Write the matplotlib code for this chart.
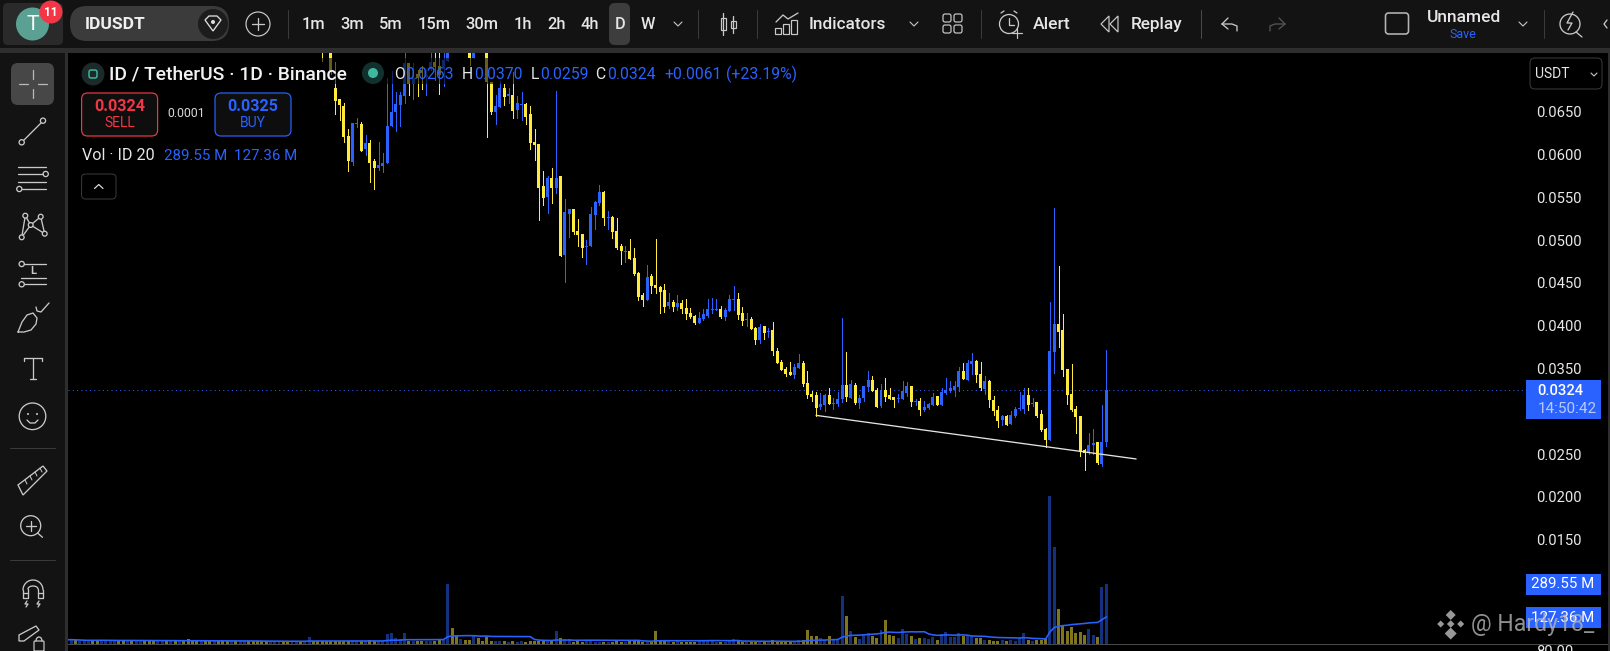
import numpy as np
import pandas as pd
import matplotlib
matplotlib.use("Agg")
import matplotlib.pyplot as plt
from matplotlib.patches import FancyBboxPatch, Rectangle, Circle, Polygon
from matplotlib.ticker import FormatStrFormatter

plt.rcParams['font.family'] = ['Roboto', 'DejaVu Sans']

nan = float('nan')
opens = [
 .0730,nan,.0725,.06744,.06613,.06531,.06183,.05882,.06322,.06322,
 .06032,.06102,.05893,.05812,.05835,.05870,.06299,.06462,.06543,.06647,
 .07030,.06787,.06903,.06949,.06872,.06961,.07042,.06995,.06961,.07053,
 nan,nan,nan,nan,.0725,.07088,nan,nan,.0725,.06810,
 .06462,.06520,.06740,.06647,.06659,.06485,.06543,.06555,.06439,.06114,
 .06091,.05603,.05476,.05696,.05580,.05719,.04803,.05279,.05336,.05081,
 .05046,.04896,.04907,.05267,.05406,.05534,.05232,.05244,.05081,.04907,
 .04837,.04849,.04768,.04594,.04339,.04281,.04559,.04455,.04432,.04397,
 .04211,.04258,.04200,.04246,.04188,.04130,.04095,.04014,.04060,.04095,
 .04165,.04165,.04176,.04084,.04153,.04281,.04292,.04130,.04049,.04060,
 .03956,.03817,.03979,.03909,.03933,.03689,.03561,.03480,.03445,.03411,
 .03492,.03550,.03318,.03190,.03179,.03039,.03063,.03179,.03074,.03074,
 .03132,.03295,.03144,.03295,.03086,.03144,.03271,.03353,.03237,.03051,
 .03237,.03179,.03155,.03132,.03132,.03202,.03283,.03097,.03109,.03005,
 .03028,.03063,.03167,.03063,.03202,.03225,.03237,.03271,.03457,.03353,
 .03538,.03573,.03422,.03248,.03341,.03121,.03005,.02888,.02935,.02842,
 .02935,.03016,.03016,.03179,.03074,.03097,.02958,.02784,.02657,.03678,
 .04002,.03933,.03480,.03190,.03016,.02935,.02541,.02506,.02599,.02633,
 .02378,.0263]
closes = [
 .0720,nan,.0693,.06589,.06543,.06172,.05893,.06334,.06334,.06009,
 .06102,.05870,.05812,.05847,.05870,.06299,.06462,.06555,.06659,.07030,
 .06787,.06856,.06856,.06910,.06891,.07042,.06984,.06891,.07065,.0725,
 nan,nan,nan,nan,.07088,.0725,nan,nan,.06810,.06462,
 .06531,.06740,.06636,.06671,.06474,.06566,.06555,.06404,.06102,.06079,
 .05580,.05464,.05696,.05580,.05696,.04791,.05302,.05336,.05070,.05035,
 .04884,.04907,.05279,.05418,.05534,.05232,.05244,.05070,.04884,.04849,
 .04849,.04756,.04582,.04315,.04281,.04548,.04443,.04420,.04374,.04200,
 .04258,.04200,.04246,.04176,.04118,.04084,.04014,.04072,.04118,.04176,
 .04176,.04176,.04084,.04165,.04292,.04292,.04107,.04037,.04060,.03944,
 .03817,.03967,.03898,.03921,.03689,.03550,.03469,.03422,.03411,.03504,
 .03550,.03306,.03179,.03155,.03028,.03074,.03179,.03074,.03086,.03132,
 .03295,.03155,.03306,.03086,.03144,.03283,.03353,.03225,.03039,.03237,
 .03155,.03132,.03121,.03144,.03225,.03283,.03097,.03109,.03005,.03039,
 .03074,.03155,.03063,.03213,.03237,.03260,.03283,.03457,.03364,.03550,
 .03573,.03411,.03260,.03341,.03121,.02993,.02877,.02935,.02830,.02947,
 .03016,.03028,.03179,.03063,.03086,.02935,.02773,.02657,.03689,.04002,
 .03909,.03469,.03179,.03005,.02923,.02517,.02506,.02599,.02622,.02390,
 .02633,.0324]
highs = [
 .0735,nan,.0735,.07038,.06613,.06562,.06265,.06334,.06392,.06346,
 .06195,.06137,.05916,.06114,.05986,.06856,.06937,.06694,.06694,.0735,
 .07030,.07030,.06949,.06995,.06949,.0735,.0735,.0735,.0735,.0735,
 nan,nan,nan,nan,.0735,.0735,nan,nan,.0735,.06810,
 .06659,.06821,.06787,.06740,.06926,.06647,.06694,.06566,.06531,.06265,
 .06091,.05777,.05719,.05812,.06705,.05719,.05452,.05336,.05336,.05220,
 .05046,.04977,.05360,.05429,.05615,.05545,.05313,.05255,.05232,.04930,
 .04907,.04988,.04884,.04606,.04362,.04687,.04582,.04990,.04443,.04466,
 .04362,.04281,.04339,.04281,.04292,.04188,.04107,.04142,.04176,.04292,
 .04304,.04292,.04211,.04188,.04339,.04443,.04362,.04200,.04130,.04083,
 .03967,.04002,.03979,.03956,.04025,.03724,.03585,.03504,.03561,.03538,
 .03654,.03573,.03457,.03225,.03213,.03202,.03190,.03260,.03144,.03213,
 .04072,.03677,.03353,.03318,.03179,.03283,.03457,.03399,.03260,.03306,
 .03376,.03260,.03155,.03190,.03341,.03329,.03283,.03132,.03144,.03109,
 .03086,.03202,.03167,.03260,.03376,.03341,.03341,.03503,.03550,.03585,
 .03666,.03585,.03561,.03399,.03353,.03167,.03051,.02947,.02947,.02993,
 .03039,.03213,.03260,.03260,.03144,.03097,.03005,.02796,.04257,.05348,
 .04675,.04118,.03480,.03538,.03051,.02935,.02552,.02738,.02784,.02633,
 .03063,.0370]
lows = [
 .07053,nan,.06903,.06439,.06369,.06114,.05777,.05847,.06288,.06009,
 .05963,.05650,.05568,.05789,.05766,.05870,.06299,.06241,.06299,.06566,
 .06659,.06613,.06647,.06729,.06659,.06949,.06833,.06671,.06763,.07053,
 nan,nan,nan,nan,.07007,.07088,nan,nan,.06172,.06439,
 .06322,.06520,.06543,.06566,.06392,.06392,.06369,.06322,.06032,.05905,
 .05209,.05383,.05290,.05406,.05522,.04791,.04490,.05012,.05046,.04907,
 .04780,.04698,.04907,.05104,.05383,.05151,.05104,.05000,.04872,.04698,
 .04721,.04756,.04571,.04281,.04211,.04281,.04362,.04362,.04130,.04142,
 .04188,.04153,.04165,.04130,.04060,.04072,.04002,.04014,.04049,.04084,
 .04130,.04165,.04072,.04049,.04153,.04165,.04060,.03991,.03979,.03944,
 .03770,.03782,.03828,.03852,.03643,.03550,.03469,.03399,.03411,.03376,
 .03492,.03283,.03144,.03109,.02935,.03016,.02993,.03074,.03016,.03051,
 .03097,.03109,.03144,.03074,.03028,.03109,.03225,.03225,.03039,.03039,
 .03109,.03132,.03039,.03097,.03132,.03167,.03051,.03063,.02947,.02993,
 .03016,.03063,.03063,.03063,.03190,.03213,.03167,.03225,.03364,.03353,
 .03422,.03329,.03237,.03190,.03039,.02947,.02807,.02830,.02830,.02842,
 .02923,.03005,.02970,.03005,.03051,.02923,.02761,.02575,.02657,.03434,
 .03735,.03399,.03074,.02993,.02738,.02471,.02308,.02494,.02494,.02378,
 .02355,.0259]
# Bars whose candle is above the visible price range: colour of their volume bar
hidden_lead_up = "YBYBBBYYBBBBYYBYBBYYYBBYBYBYYYYBYYBYYYBYBBYYYYYBBBYYBBYBBYY"[:59]
hidden_inner_up = "YYYBYYY"
# Volume in millions, one per bar
volumes_m = [
 20,22,18,16,15,15,19,20,16,15, 14,15,18,18,15,17,15,15,16,15,
 16,15,14,15,14,15,14,14,24,17, 15,14,14,14,13,14,14,13,13,13,
 13,13,13,13,14,14,13,13,13,13, 14,13,14,13,13,13,34,13,14,
 13,14,13,13,13,13,14,14,13,13, 13,19,14,13,15, 48,53,29,22,53,
 16,14,14,15,14,14,15,18,17,
 288,75,38,24,19,19,38,27,14,35,14,14,14,13,12,14,12,14,12,14,16,14,14,16,15,
 64,30,24,24,11,16,11,16,16,11,11,11,11,11,16,11,11,16,16,16,11,11,11,64,16,
 16,16,11,16,11,11,11,11,14,16,19,16,11,11,11,16,24,16,11,11,11,11,11,11,11,19,11,
 11,11,11,11,19,19,67,38,38,29, 19,38,19,24,230,134,62,34,24,43,
 53,38,29,67,115,43,38,29,72,48, 38,24,29,29,24,34,19,48,58,34,
 34,53,38,38,38,29,29,19,19,14, 14,19,14,19,14,29,53,19,14,19,
 19,24,710,466,168,86,62,82,53,58, 43,72,43,34,274,289.55]
price_ticks = [.065,.06,.055,.05,.045,.04,.035,.025,.02,.015]
trend_index = [172.9, 247.0]
trend_price = [.02943, .02436]
timeframes = ["1m","3m","5m","15m","30m","1h","2h","4h","D","W"]

BLUE = '#2962FF'; YEL = '#FFEB3B'; PANEL = '#131313'; SEP = '#2e2e2e'; ICON = '#c9c9c9'
W, H = 1610, 651
fig = plt.figure(figsize=(W/100, H/100), dpi=100, facecolor=PANEL)
PX = 72/100

# ---- background layer
bg = fig.add_axes([0,0,1,1], zorder=0); bg.set_xlim(0,W); bg.set_ylim(H,0); bg.axis('off')
bg.add_patch(Rectangle((0,48),W,5,color=SEP,lw=0))
bg.add_patch(Rectangle((65,48),3,H-48,color=SEP,lw=0))
bg.add_patch(Rectangle((68,53),W-68,H-53,color='black',lw=0))
bg.add_patch(Rectangle((1608,48),2,H-48,color=SEP,lw=0))

# ---- chart
x0, x1, y0, y1 = 68, 1527, 53, 644
pos = [x0/W, (H-y1)/H, (x1-x0)/W, (y1-y0)/H]
xlim = (0.28, 337.16)

o, h, l, c = [np.array(a) for a in (opens, highs, lows, closes)]
n_lead = len(volumes_m) - len(o)
vis = np.arange(n_lead, len(volumes_m))
inner = iter(hidden_inner_up)
up_c = [(next(inner) == 'B') if np.isnan(a) else (b >= a) for a, b in zip(o, c)]
up_all = np.array([ch == 'B' for ch in hidden_lead_up[:n_lead]] + up_c)
vol = np.array(volumes_m)
idx = np.arange(len(vol))

axv = fig.add_axes(pos, zorder=4); axv.set_xlim(*xlim); axv.set_ylim(0, 591*4.8); axv.axis('off')
axv.bar(idx, vol, width=0.69, color=[BLUE if u else YEL for u in up_all], alpha=0.5, lw=0, antialiased=False)
ma = pd.Series(vol).rolling(20, min_periods=1).mean()
axv.plot(idx, ma, color=BLUE, lw=1.6*PX, zorder=3)

ax = fig.add_axes(pos, zorder=5); ax.patch.set_alpha(0)
ax.set_xlim(*xlim); ax.set_ylim(.0029, .07146)
for s in ax.spines.values(): s.set_visible(False)
ax.set_xticks([]); ax.set_yticks([])
ax.axhline(c[-1], color=BLUE, lw=PX, ls=(0,(1,3.3)), zorder=1)
cols = [BLUE if u else YEL for u in up_c]
ax.vlines(vis, l, h, colors=cols, lw=PX, zorder=2, antialiased=False)
bot = np.minimum(o, c); top = np.maximum(o, c)
ax.bar(vis, np.maximum(top-bot, 0.00008), bottom=bot, width=0.69, color=cols, lw=0, zorder=3, antialiased=False)
ax.plot(trend_index, trend_price, color='#e4e4e4', lw=1.3*PX, zorder=4, solid_capstyle='butt')

# printed price scale
axl = fig.add_axes(pos, zorder=6); axl.patch.set_alpha(0)
axl.set_ylim(.00282, .07184)
for s in axl.spines.values(): s.set_visible(False)
axl.set_xticks([])
axl.yaxis.tick_right()
axl.set_yticks(price_ticks)
axl.yaxis.set_major_formatter(FormatStrFormatter('%.4f'))
axl.tick_params(axis='y', length=0, pad=6.5, labelcolor='#e8e8e8', labelsize=10.6)

# ---- UI overlay
ui = fig.add_axes([0,0,1,1], zorder=10); ui.set_xlim(0,W); ui.set_ylim(H,0); ui.axis('off'); ui.patch.set_alpha(0)

def T(x, y, s, color='#e6e6e6', size=11.5, ha='left', weight='normal', **k):
    return ui.text(x, y+1.5, s, color=color, fontsize=size, ha=ha, va='center', fontweight=weight, zorder=k.pop('zorder',20), **k)
def RR(x, y, w, h, r, fc='none', ec='none', lw=1, z=15):
    ui.add_patch(FancyBboxPatch((x,y),w,h,boxstyle=f"round,pad=0,rounding_size={r}",fc=fc,ec=ec,lw=lw*PX,zorder=z))
def LN(xs, ys, color=ICON, lw=1.3, z=16):
    ui.plot(xs, ys, color=color, lw=lw*PX, zorder=z, solid_capstyle='round', solid_joinstyle='round')
def CI(x, y, r, fc='none', ec=ICON, lw=1.3, z=17):
    ui.add_patch(Circle((x,y),r,fc=fc,ec=ec,lw=lw*PX,zorder=z))

# legend band dims what runs beneath it
ui.add_patch(Rectangle((68,58),735,26,color='black',alpha=0.6,lw=0,zorder=12))

# top toolbar
RR(3,3,60,42,5,fc='#2a2a2a')
CI(32.5,24,16.5,fc='#5aa193',ec='none')
T(32.5,23.5,'T',color='white',size=15,ha='center')
CI(51,12,11.5,fc='#f23645',ec='none',z=18)
T(51,10.5,'11',color='white',size=8.5,ha='center',weight='bold')
RR(70,6,159,35,17,fc='#3b3b3b')
T(85,23,'IDUSDT',color='#f0f0f0',size=12.5,weight='bold')
CI(213,24,15,fc='#1c1c1c',ec='none')
ui.add_patch(Polygon([(205,20),(209,16),(217,16),(221,20),(213,31)],closed=True,fc='none',ec='#e0e0e0',lw=1.3*PX,zorder=18))
CI(213,22,2,fc='#e0e0e0',ec='none',z=18)
CI(258,24,12,lw=1.2)
LN([252,264],[24,24]); LN([258,258],[18,30])
LN([288,288],[10,38],color='#3a3a3a',lw=1)
RR(609,3,21,42,6,fc='#3d3d3d')
tf_x = [313.5,352,391,434,482,523,557,590,620,648]
for tf, tx in zip(timeframes, tf_x):
    T(tx,23,tf,ha='center',size=11.8,weight='medium')
LN([674,678,682],[22,26,22],lw=1.1)
LN([698,698],[10,38],color='#3a3a3a',lw=1)
# candle icon
for cx, t_, b_ in [(723,16,32),(733,19,30)]:
    LN([cx,cx],[t_-3,b_+3]); ui.add_patch(Rectangle((cx-2.5,t_+2),5,b_-t_-4,fc='none',ec=ICON,lw=1.2*PX,zorder=16))
LN([757,757],[10,38],color='#3a3a3a',lw=1)
# indicators icon
for bx, bt in [(778,28),(786,24),(794,20)]:
    ui.add_patch(Rectangle((bx-3,bt),6,34-bt,fc='none',ec=ICON,lw=1.2*PX,zorder=16))
LN([776,783,788,798],[22,15,19,13])
T(809,23,'Indicators',size=12.4,weight='medium')
LN([910,914,918],[22,26,22],lw=1.1)
for gx in (943,954):
    for gy in (14,25):
        RR(gx,gy,8,8,2,ec=ICON,lw=1.2)
LN([981,981],[10,38],color='#3a3a3a',lw=1)
CI(1009,24,9.5)
LN([1009,1009,1014],[18,25,25]); LN([1001,1004],[13,11]); LN([1017,1014],[13,11])
LN([1012,1022],[33,33],lw=1.2); LN([1017,1017],[28,38],lw=1.2)
T(1033,23,'Alert',size=12.6,weight='medium')
for rx in (1101,1110):
    ui.add_patch(Polygon([(rx+8,16),(rx,24),(rx+8,32)],closed=True,fc='none',ec=ICON,lw=1.2*PX,zorder=16))
T(1131,23,'Replay',size=12.4,weight='medium')
LN([1201,1201],[10,38],color='#4a4a4a',lw=1)
LN([1222,1228],[24,18]); LN([1222,1228],[24,29]); LN([1222,1232,1237,1237],[24,24,26,31])
LN([1285,1279],[24,18],color='#555'); LN([1285,1279],[24,29],color='#555'); LN([1285,1275,1270,1270],[24,24,26,31],color='#555')
RR(1385.5,13,23,21,3,ec='#b5b5b5',lw=1.6)
T(1427,16,'Unnamed',size=12.5,weight='medium')
T(1463,32.5,'Save',color=BLUE,size=9,ha='center')
LN([1519,1523,1527],[22,26,22],lw=1.1)
LN([1544,1544],[10,38],color='#3a3a3a',lw=1)
CI(1570,24,10)
LN([1576,1582],[32,37]); LN([1573,1567,1572,1568],[12,23,23,30])
LN([1607,1604,1607],[20,24,28])

# left toolbar
RR(11,63,43,42,7,fc='#474747')
LN([33,33],[70,79],color='#b8b8b8'); LN([33,33],[89,98],color='#b8b8b8')
LN([19,28],[84,84],color='#b8b8b8'); LN([38,47],[84,84],color='#b8b8b8')
LN([24,41],[140,123]); CI(21.7,142.3,2.6); CI(43,120.7,2.6)
LN([18,46],[166.7,166.7]); LN([18,43],[174,174]); CI(45.7,174,2.6)
LN([18,46],[181.7,181.7]); LN([22,46],[189,189]); CI(19.3,189,2.6)
nodes = [(21.7,237.3),(25.3,215.7),(30.7,225),(40.7,216.7),(44.7,233.7)]
for i,j in [(0,1),(1,2),(0,2),(2,3),(3,4),(2,4)]:
    LN([nodes[i][0],nodes[j][0]],[nodes[i][1],nodes[j][1]])
for nx,ny in nodes: CI(nx,ny,2.4,fc=PANEL)
LN([24,46],[264,264]); CI(21.7,264,2.6)
T(33,269.5,'L',color=ICON,size=8,ha='center',weight='bold')
LN([21,46],[278,278]); LN([24,46],[284.3,284.3]); CI(21.7,284.3,2.6)
LN([18,24,31,36,37,33,27,22,18],[332,332,330,324,318,313,315,322,332])
LN([36,37,41,49],[307,311,312,303])
LN([24,42],[358,358]); LN([33,33],[358,379]); LN([30,36],[379,379]); LN([24,24],[358,361]); LN([42,42],[358,361])
CI(32.5,416.3,13.3)
CI(28,414,1,fc=ICON,ec='none'); CI(37,414,1,fc=ICON,ec='none')
LN([27,30,35,38],[420,423,423,420])
LN([10,55],[448,448],color='#3a3a3a',lw=1)
ui.add_patch(Polygon([(18,485),(43,466),(47,471),(23,495)],closed=True,fc='none',ec=ICON,lw=1.3*PX,zorder=16))
for a,b,c_,d in [(25,480,27,484),(30,476,32,480),(35,472,37,476),(40,468,42,472)]:
    LN([a,c_],[b,d],lw=1)
CI(30.7,525.7,10); LN([37.5,42.5],[533,537.3]); LN([25.5,36],[525.7,525.7]); LN([30.7,30.7],[520.5,531])
LN([10,55],[559.5,559.5],color='#3a3a3a',lw=1)
# magnet
theta = np.linspace(np.pi, 2*np.pi, 40)
LN(33+10*np.cos(theta), 590+10*np.sin(theta))
LN(33+5*np.cos(theta), 590+3*np.sin(theta)-1)
LN([23,23,28,28],[590,598,598,589]); LN([43,43,38,38],[590,598,598,589])
LN([23,28],[593,593]); LN([38,43],[593,593])
LN([27,25,28,26],[601,604,604,607]); LN([39,37,40,38],[601,604,604,607])
# pencil + lock
ui.add_patch(Polygon([(19,635),(36,626),(39,630),(24,641),(19,641)],closed=True,fc='none',ec=ICON,lw=1.3*PX,zorder=16))
RR(34,641,10,10,1,fc=PANEL,ec=ICON,lw=1.2)
th2 = np.linspace(np.pi,2*np.pi,20); LN(39+3*np.cos(th2),641+4*np.sin(th2))

# chart legend
CI(93,74,11.5,fc='#1c2a2a',ec='none')
RR(89,70,8,8,2,ec='#3fc0a5',lw=1.4,z=18)
T(109,73,'ID / TetherUS · 1D · Binance',color='#f2f2f2',size=13.9,weight='medium')
CI(373,73,11,fc='#12302d',ec='none',z=18)
CI(373,73,5,fc='#3fb8a0',ec='none',z=19)
for lx, lab, vx, val in [(394,'O',405.5,'0.0263'),(462,'H',474,'0.0370'),(530.5,'L',540,'0.0259'),(595.5,'C',607,'0.0324')]:
    T(lx,73,lab,color='#e6e6e6',size=11.3)
    T(vx,73,val,color=BLUE,size=11.3)
T(664,73,'+0.0061',color=BLUE,size=11.3)
T(726,73,'(+23.19%)',color=BLUE,size=11.3)
RR(81.6,93,76,43,6,fc='#0e0e0e',ec='#f23645',lw=1.2)
T(120,105,'0.0324',color='#f23645',size=11.6,ha='center',weight='bold')
T(120,121.5,'SELL',color='#f23645',size=10,ha='center')
T(186,112,'0.0001',color='#d8d8d8',size=8.8,ha='center')
RR(215,93,76,43,6,fc='#0e0e0e',ec=BLUE,lw=1.2)
T(253,105,'0.0325',color=BLUE,size=11.6,ha='center',weight='bold')
T(253,121.5,'BUY',color=BLUE,size=10,ha='center')
T(81.6,154,'Vol · ID 20',color='#e6e6e6',size=11.6)
T(164,154,'289.55 M',color=BLUE,size=10.8)
T(234,154,'127.36 M',color=BLUE,size=10.8)
RR(81.6,174,34.4,25,4,ec='#3a3a3a',lw=1)
LN([94.5,98.8,103],[188.5,184.5,188.5],color='#e0e0e0',lw=1.2)

# price scale
RR(1530,58,72,31,5,fc='black',ec='#3a3a3a',lw=1)
T(1535,73,'USDT',size=10)
LN([1591,1594,1597],[73,76,73],lw=1.1)
ui.add_patch(Rectangle((1526,380),74.7,39,color=BLUE,lw=0,zorder=15))
T(1537,389.5,'0.0324',color='white',size=10.6,weight='medium')
T(1538,407.5,'14:50:42',color='#b9caff',size=11)
ui.add_patch(Rectangle((1526,574),74.7,21,color=BLUE,lw=0,zorder=15))
T(1563,583,'289.55 M',color='white',size=10.8,ha='center')
ui.add_patch(Rectangle((1526,607),74.7,21,color=BLUE,lw=0,zorder=15))
T(1563,616,'127.36 M',color='white',size=10.8,ha='center')
ui.add_patch(Rectangle((68,644),W-70,1,color='#4a4a4a',lw=0,zorder=14))
T(1536,650,'80.00',color='#e8e8e8',size=10.6)

# watermark
wm = '#b4b4b4'
for dx, dy, r in [(0,-9,5),(-10,0,3.5),(10,0,3.5),(0,0,3.8),(0,9.5,6)]:
    cx, cy = 1450.7+dx, 624+dy
    ui.add_patch(Polygon([(cx,cy-r),(cx+r,cy),(cx,cy+r),(cx-r,cy)],closed=True,fc=wm,ec='none',alpha=.85,zorder=25))
T(1470.7,623.5,'@ Hardy18_',color=wm,size=16.6,alpha=.8,zorder=25)

fig.savefig('out.png', dpi=100, facecolor=PANEL)
